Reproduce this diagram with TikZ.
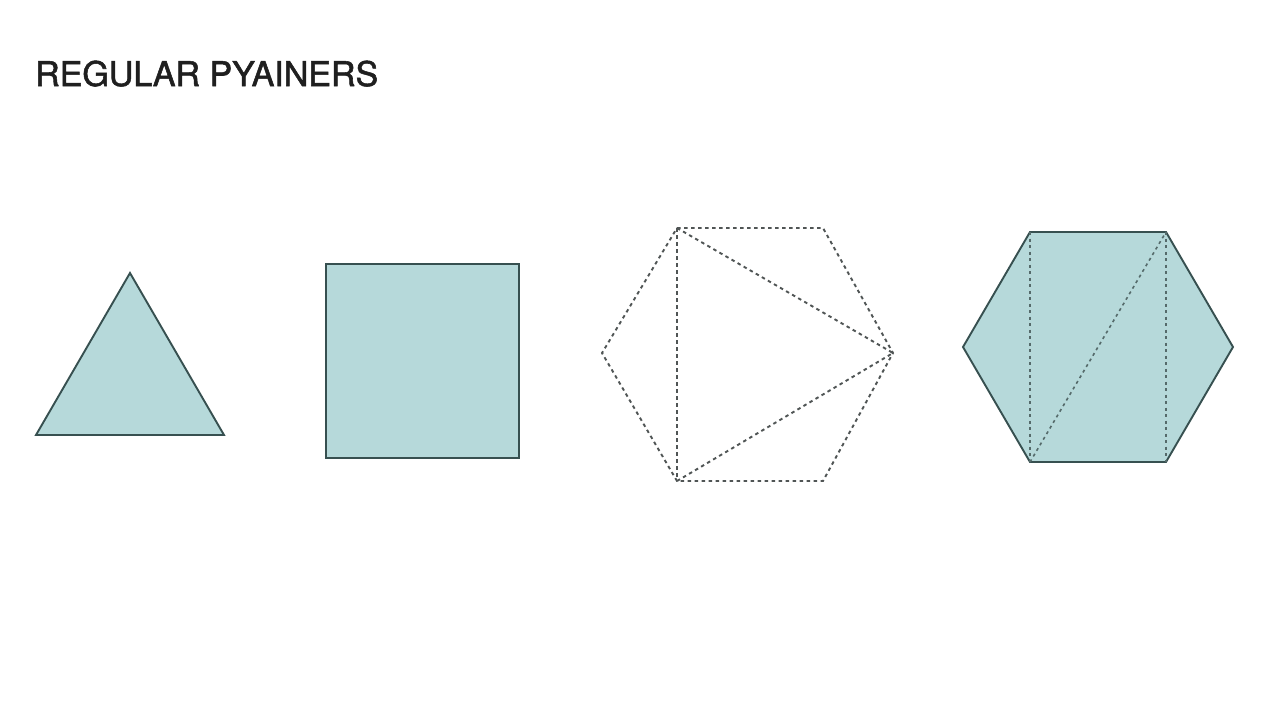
\documentclass[tikz,border=0pt]{standalone}
\usepackage{fontspec}
\setmainfont{TeX Gyre Heros}
\newfontfamily\titlefont[FakeBold=1.6]{TeX Gyre Heros}
\definecolor{tealfill}{RGB}{182,217,218}
\definecolor{edge}{RGB}{55,80,80}
\definecolor{dashc}{RGB}{80,85,85}
\tikzset{
  shapefill/.style={fill=tealfill, draw=edge, line width=1.9pt, line join=miter},
  dashline/.style={draw=dashc, line width=1.9pt, dash pattern=on 3.5pt off 3.5pt},
  inner/.style={draw=edge!85, line width=1.6pt, dash pattern=on 3pt off 3.5pt},
}
\begin{document}
\begin{tikzpicture}[x=1pt,y=-1pt]
\useasboundingbox[fill=white] (0,0) rectangle (1280,720);
\node[anchor=base west, inner sep=0pt, font=\titlefont\fontsize{34}{40}\selectfont, text=black!88] (title) at (35,86) {REGULAR PYAINERS};
% triangle
\coordinate (t1) at (130,273);
\coordinate (t2) at (224,435);
\coordinate (t3) at (36,435);
\draw[shapefill] (t1) -- (t2) -- (t3) -- cycle;
% square
\coordinate (s1) at (326,264);
\coordinate (s2) at (519,458);
\draw[shapefill] (s1) rectangle (s2);
% dashed hexagon
\coordinate (h1) at (677,228);
\coordinate (h2) at (823,228);
\coordinate (h3) at (893,353);
\coordinate (h4) at (823,481);
\coordinate (h5) at (677,481);
\coordinate (h6) at (602,353);
\draw[dashline] (h1) -- (h2) -- (h3) -- (h4) -- (h5) -- (h6) -- cycle;
\draw[dashline] (h1) -- (h5);
\draw[dashline] (h1) -- (h3);
\draw[dashline] (h5) -- (h3);
% filled hexagon
\coordinate (g1) at (1030,232);
\coordinate (g2) at (1166,232);
\coordinate (g3) at (1233,347);
\coordinate (g4) at (1166,462);
\coordinate (g5) at (1030,462);
\coordinate (g6) at (963,347);
\draw[shapefill] (g1) -- (g2) -- (g3) -- (g4) -- (g5) -- (g6) -- cycle;
\draw[inner] (g1) -- (g5);
\draw[inner] (g2) -- (g4);
\draw[inner] (g5) -- (g2);
\end{tikzpicture}
\end{document}
